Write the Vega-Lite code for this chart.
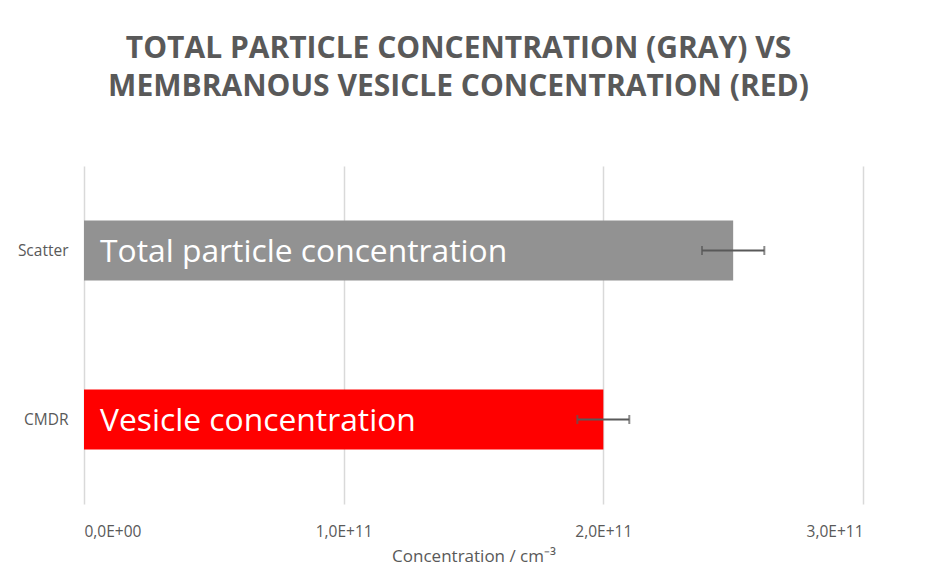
{
  "$schema": "https://vega.github.io/schema/vega-lite/v6.json",
  "width": 779,
  "height": 338,
  "autosize": "none",
  "padding": {"left": 84, "top": 166, "right": 67, "bottom": 63},
  "background": "white",
  "title": {
    "text": ["TOTAL PARTICLE CONCENTRATION (GRAY) VS", "MEMBRANOUS VESICLE CONCENTRATION (RED)"],
    "font": "Open Sans",
    "fontSize": 30,
    "fontWeight": "bold",
    "color": "#595959",
    "anchor": "middle",
    "dx": -15,
    "offset": 64,
    "lineHeight": 38
  },
  "data": {
    "values": [
      {"cat": "Scatter", "value": 2.5e11, "lo": 2.38e11, "hi": 2.62e11, "label": "Total particle concentration", "col": "gray"},
      {"cat": "CMDR", "value": 2.0e11, "lo": 1.9e11, "hi": 2.1e11, "label": "Vesicle concentration", "col": "red"}
    ]
  },
  "config": {
    "view": {"stroke": null},
    "font": "Open Sans"
  },
  "encoding": {
    "y": {
      "field": "cat",
      "type": "nominal",
      "sort": ["Scatter", "CMDR"],
      "scale": {"paddingInner": 0.645, "paddingOuter": 0.3225},
      "axis": {
        "title": null,
        "domain": false,
        "ticks": false,
        "labelFontSize": 15.5,
        "labelColor": "#595959",
        "labelPadding": 16,
        "labelFont": "Open Sans"
      }
    }
  },
  "layer": [
    {
      "mark": {"type": "bar"},
      "encoding": {
        "x": {
          "field": "value",
          "type": "quantitative",
          "scale": {"domain": [0, 3e11], "nice": false},
          "axis": {
            "values": [0, 1e11, 2e11, 3e11],
            "labelExpr": "datum.value == 0 ? '0,0E+00' : replace(upper(format(datum.value, '.1e')), '.', ',')",
            "domain": false,
            "ticks": false,
            "grid": true,
            "gridColor": "#d9d9d9",
            "gridWidth": 1.5,
            "labelFontSize": 15.5,
            "labelColor": "#595959",
            "labelPadding": 20,
            "title": "Concentration / cm⁻³",
            "titleFontSize": 17,
            "titleFontWeight": "normal",
            "titleColor": "#595959",
            "titlePadding": 9
          }
        },
        "color": {
          "field": "col",
          "type": "nominal",
          "scale": {"domain": ["gray", "red"], "range": ["#929292", "#ff0000"]},
          "legend": null
        }
      }
    },
    {
      "mark": {"type": "text", "align": "left", "baseline": "middle", "dx": 16, "dy": 1, "color": "white", "fontSize": 31.8, "font": "Open Sans"},
      "encoding": {
        "x": {"datum": 0, "type": "quantitative"},
        "text": {"field": "label"}
      }
    },
    {
      "mark": {"type": "rule", "color": "#595959", "strokeWidth": 2},
      "encoding": {
        "x": {"field": "lo", "type": "quantitative"},
        "x2": {"field": "hi"}
      }
    },
    {
      "mark": {"type": "tick", "orient": "vertical", "color": "#595959", "thickness": 2, "size": 9},
      "encoding": {
        "x": {"field": "lo", "type": "quantitative"}
      }
    },
    {
      "mark": {"type": "tick", "orient": "vertical", "color": "#595959", "thickness": 2, "size": 9},
      "encoding": {
        "x": {"field": "hi", "type": "quantitative"}
      }
    }
  ]
}
